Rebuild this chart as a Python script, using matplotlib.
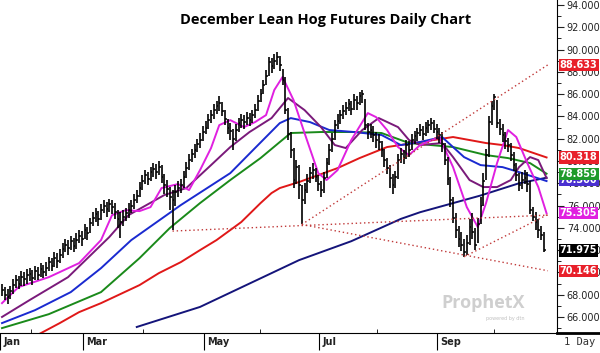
import matplotlib
matplotlib.use("Agg")
import matplotlib.pyplot as plt
from matplotlib.lines import Line2D
import matplotlib.transforms as mtransforms

# daily bars (December lean hogs)
closes = [
    68.4, 68.0, 67.8, 68.3, 68.9, 69.3, 69.0, 69.6, 69.4, 69.8,
    69.9, 69.5, 70.1, 69.8, 70.3, 70.0, 70.4, 70.9, 70.6, 71.3,
    71.0, 71.6, 72.1, 72.5, 72.2, 72.8, 72.4, 72.9, 73.3, 73.0,
    73.8, 73.5, 74.4, 74.9, 75.2, 74.8, 75.6, 76.0, 75.7, 76.1,
    75.9, 75.4, 74.8, 74.5, 75.0, 75.3, 75.6, 76.0, 76.5, 76.9,
    77.6, 78.2, 78.7, 78.4, 79.0, 79.3, 79.0, 79.5, 78.6, 77.8,
    77.5, 76.8, 76.5, 77.2, 77.6, 77.8, 78.6, 79.4, 80.1, 80.6,
    81.0, 81.5, 81.9, 82.6, 83.0, 83.7, 84.1, 84.6, 84.9, 85.2,
    84.5, 83.8, 83.0, 82.7, 82.0, 82.8, 83.4, 83.7, 83.5, 83.9,
    83.7, 84.1, 84.6, 85.4, 86.0, 86.8, 87.6, 88.9, 88.5, 89.0,
    89.3, 88.6, 87.3, 84.6, 82.4, 81.0, 78.3, 79.5, 77.8, 76.5,
    77.4, 78.2, 78.9, 79.2, 78.6, 77.9, 77.4, 78.5, 79.8, 81.0,
    82.0, 83.2, 83.6, 84.1, 84.5, 84.8, 85.1, 84.7, 85.5, 85.2,
    85.8, 86.0, 83.2, 82.6, 82.8, 82.3, 81.9, 81.7, 81.0, 80.1,
    79.4, 78.5, 77.8, 78.6, 80.1, 80.6, 80.3, 81.4, 81.0, 81.9,
    82.2, 82.5, 82.8, 82.4, 83.0, 83.2, 83.4, 82.9, 82.6, 82.3,
    81.5, 80.1, 78.4, 76.5, 74.9, 73.8, 73.0, 72.5, 71.8, 72.6,
    74.1, 73.6, 72.5, 74.3, 76.0, 78.2, 80.5, 83.5, 84.9, 85.7,
    83.4, 82.9, 82.3, 81.8, 81.4, 80.5, 79.6, 78.7, 77.8, 78.3,
    78.5, 77.9, 75.6, 75.0, 74.5, 73.8, 73.4, 71.975,
]
highs = [
    69.0, 68.7, 68.5, 68.8, 69.4, 69.8, 69.7, 70.1, 70.0, 70.3,
    70.4, 70.2, 70.6, 70.5, 70.8, 70.7, 70.9, 71.4, 71.3, 71.8,
    71.7, 72.1, 72.6, 73.0, 72.9, 73.3, 73.1, 73.5, 73.8, 73.7,
    74.3, 74.1, 74.9, 75.4, 75.8, 75.5, 76.1, 76.5, 76.3, 76.6,
    76.5, 76.2, 75.6, 75.4, 75.6, 75.8, 76.2, 76.5, 77.0, 77.4,
    78.1, 78.7, 79.2, 79.0, 79.5, 79.8, 79.7, 80.0, 79.6, 78.8,
    78.3, 77.7, 77.4, 77.8, 78.2, 78.4, 79.1, 79.9, 80.6, 81.1,
    81.5, 82.0, 82.5, 83.1, 83.6, 84.2, 84.6, 85.1, 85.4, 85.8,
    85.3, 84.6, 83.8, 83.4, 82.9, 83.3, 83.9, 84.2, 84.1, 84.4,
    84.3, 84.6, 85.1, 85.9, 86.5, 87.3, 88.2, 89.3, 89.2, 89.6,
    89.8, 89.4, 88.3, 87.5, 84.8, 82.6, 81.2, 80.1, 79.6, 77.8,
    78.0, 78.8, 79.5, 79.8, 79.4, 78.7, 78.2, 79.0, 80.3, 81.5,
    82.5, 83.7, 84.2, 84.6, 85.0, 85.3, 85.6, 85.4, 86.0, 85.8,
    86.2, 86.4, 85.6, 83.4, 83.3, 83.1, 82.6, 82.4, 81.8, 81.1,
    80.3, 79.6, 78.8, 79.1, 80.6, 81.2, 81.0, 81.9, 81.8, 82.4,
    82.7, 83.0, 83.3, 83.1, 83.5, 83.7, 83.9, 83.7, 83.3, 83.0,
    82.6, 81.6, 80.4, 78.6, 76.8, 75.3, 74.2, 73.6, 73.0, 73.4,
    74.8, 75.3, 74.0, 74.9, 76.8, 78.9, 81.1, 84.0, 85.4, 86.0,
    85.5, 83.8, 83.3, 82.6, 82.1, 81.6, 80.8, 79.8, 78.9, 79.0,
    79.2, 79.0, 78.2, 75.9, 75.4, 74.8, 74.2, 73.6,
]
lows = [
    67.9, 67.5, 67.2, 67.6, 68.1, 68.6, 68.5, 68.8, 68.8, 69.0,
    69.2, 68.9, 69.3, 69.3, 69.6, 69.5, 69.7, 70.1, 70.1, 70.5,
    70.4, 70.8, 71.3, 71.8, 71.6, 72.0, 71.8, 72.1, 72.6, 72.4,
    73.0, 72.9, 73.5, 74.2, 74.5, 74.2, 74.7, 75.3, 75.0, 75.4,
    75.2, 74.8, 74.0, 73.1, 74.2, 74.6, 74.9, 75.3, 75.7, 76.2,
    76.8, 77.4, 77.9, 77.8, 78.2, 78.6, 78.4, 78.7, 78.0, 77.0,
    76.8, 75.6, 73.8, 76.0, 76.8, 77.1, 77.6, 78.5, 79.2, 79.9,
    80.3, 80.8, 81.2, 81.8, 82.4, 82.9, 83.4, 83.8, 84.2, 84.5,
    84.0, 83.2, 82.4, 81.9, 81.0, 81.8, 82.6, 83.0, 82.9, 83.2,
    83.1, 83.4, 83.9, 84.5, 85.3, 86.0, 86.8, 87.6, 87.9, 88.3,
    88.6, 88.1, 86.8, 84.2, 81.9, 80.3, 77.6, 77.9, 76.6, 74.3,
    76.1, 77.1, 78.0, 78.4, 78.1, 77.3, 76.8, 77.1, 78.5, 79.6,
    80.8, 81.9, 82.9, 83.3, 83.8, 84.1, 84.5, 84.1, 84.6, 84.6,
    85.0, 85.2, 82.8, 82.0, 82.1, 81.7, 81.2, 81.0, 80.4, 79.5,
    78.8, 77.6, 77.0, 77.6, 78.4, 79.8, 79.7, 80.2, 80.4, 81.0,
    81.5, 81.8, 82.2, 81.9, 82.2, 82.5, 82.8, 82.5, 82.0, 81.6,
    80.8, 79.6, 77.8, 75.9, 74.4, 73.1, 72.3, 71.9, 71.4, 71.6,
    72.5, 73.0, 72.0, 72.6, 74.3, 76.0, 78.3, 80.4, 83.2, 84.6,
    83.0, 82.3, 81.7, 81.1, 80.8, 80.0, 79.1, 78.2, 77.3, 77.5,
    77.9, 77.2, 75.2, 74.6, 73.8, 73.1, 72.9, 71.8,
]

# moving averages as drawn on the chart (bar index, value)
mag_idx = [0, 6, 17, 28, 36, 40, 45, 50, 54, 58, 64, 68, 72, 76, 79, 83, 88, 92, 96, 99,
           102, 106, 110, 115, 118, 122, 127, 133, 136, 140, 144, 148, 152, 159, 164, 169,
           173, 176, 180, 184, 187, 191, 195, 198]
mag_val = [67.24, 68.68, 69.57, 70.83, 72.9, 75.14, 75.59, 75.5, 75.86, 77.57, 77.93, 77.39,
           79.18, 81.16, 83.22, 83.67, 83.04, 83.49, 84.12, 86.37, 87.54, 85.47, 82.51, 78.91,
           78.29, 79.18, 81.88, 84.3, 83.94, 82.78, 81.25, 80.53, 81.43, 82.15, 79.45, 75.86,
           74.07, 76.22, 79.81, 82.78, 82.15, 79.81, 77.66, 75.305]
pur_idx = [0, 10, 24, 39, 46, 59, 67, 76, 83, 90, 98, 104, 110, 116, 121, 125, 131, 137, 144,
           148, 152, 160, 164, 170, 175, 180, 185, 188, 192, 195, 198]
pur_val = [66.0, 67.51, 69.57, 73.17, 75.14, 76.94, 77.57, 79.63, 81.25, 82.6, 83.85, 85.65,
           84.57, 83.04, 81.43, 81.16, 82.78, 83.85, 83.04, 81.88, 81.43, 81.61, 80.35, 78.29,
           77.66, 77.66, 78.29, 79.45, 80.35, 80.08, 78.47]
blu_idx = [0, 12, 25, 36, 47, 65, 83, 92, 101, 105, 112, 119, 128, 138, 145, 152, 160, 168,
           174, 182, 188, 198]
blu_val = [65.45, 66.61, 68.23, 70.38, 72.9, 76.04, 78.91, 81.16, 83.4, 83.85, 83.49, 82.78,
           82.6, 82.33, 81.43, 81.7, 82.15, 80.35, 79.63, 79.45, 79.0, 78.2]
grn_idx = [0, 17, 36, 50, 61, 72, 83, 94, 101, 105, 116, 128, 138, 148, 164, 176, 184, 192, 198]
grn_val = [65.0, 66.25, 68.23, 71.28, 73.98, 76.22, 78.29, 80.26, 81.7, 82.51, 82.6, 82.6,
           82.51, 81.61, 81.25, 80.53, 80.26, 79.81, 78.859]
red_idx = [13, 21, 28, 36, 43, 50, 57, 65, 72, 78, 87, 94, 98, 101, 108, 116, 122, 130, 140,
           152, 164, 176, 182, 188, 198]
red_val = [64.4, 65.45, 66.43, 67.24, 68.05, 68.86, 69.93, 70.92, 72.0, 72.9, 74.52, 76.22,
           77.12, 77.57, 78.11, 78.82, 79.36, 80.26, 81.25, 81.7, 82.15, 81.61, 81.43, 81.16,
           80.318]
nav_idx = [49, 72, 90, 108, 127, 145, 152, 174, 188, 198]
nav_val = [65.1, 66.9, 69.0, 71.1, 72.8, 74.8, 75.4, 76.9, 78.0, 78.5]

# dotted trend lines (start bar, start value, end bar, end value)
trend_lines = [
    (62, 73.71, 198.5, 75.14),
    (109, 74.3, 198.5, 70.146),
    (168, 71.4, 198.5, 75.2),
    (109, 74.3, 198.5, 88.633),
]

# price flags on the right scale
flag_vals = [88.633, 80.318, 78.3, 78.859, 75.305, 71.975, 70.146]
flag_text = ['88.633', '80.318', '78.300', '78.859', '75.305', '71.975', '70.146']
flag_cols = ['#e8202a', '#e8202a', '#4a2fd0', '#1f9a2a', '#e020e0', '#000000', '#e8202a']

month_pos = [-0.7, 29.5, 73.5, 115.3, 158.2]
month_names = ['Jan', 'Mar', 'May', 'Jul', 'Sep']
minor_pos = [10.5, 51.3, 93.8, 136.4, 178.9]

fig = plt.figure(figsize=(6, 3.53), dpi=100)
ax = fig.add_axes([0, 20 / 353, 557 / 600, 333 / 353])
ax.set_xlim(-0.73, 201.8)
ax.set_ylim(64.56, 94.45)

# moving averages
ax.plot(nav_idx, nav_val, color='#14147a', lw=1.4)
ax.plot(red_idx, red_val, color='#e01818', lw=1.4)
ax.plot(grn_idx, grn_val, color='#1a8a1a', lw=1.4)
ax.plot(blu_idx, blu_val, color='#1a2ad0', lw=1.4)
ax.plot(pur_idx, pur_val, color='#7a1a7a', lw=1.4)
ax.plot(mag_idx, mag_val, color='#e020e0', lw=1.4)

# HLC bars
idx = list(range(len(closes)))
ax.vlines(idx, lows, highs, color='black', lw=1.2)
ax.hlines(closes, [i for i in idx], [i + 0.7 for i in idx], color='black', lw=1.1)

for x0, y0, x1, y1 in trend_lines:
    ax.plot([x0, x1], [y0, y1], color='#c03838', lw=1.0, ls=(0, (1, 2)))

for s in ['top', 'left']:
    ax.spines[s].set_visible(False)
ax.spines['right'].set_color('black')
ax.spines['bottom'].set_color('black')

ax.yaxis.tick_right()
ax.set_yticks(range(66, 95, 2))
ax.set_yticklabels([f'{v:.3f}' for v in range(66, 95, 2)])
ax.set_yticks(range(65, 95, 2), minor=True)
ax.tick_params(axis='y', which='major', length=5, pad=2, labelsize=7, colors='#222222')
ax.tick_params(axis='y', which='minor', length=3)

ax.set_xticks(month_pos)
ax.set_xticklabels([])
ax.set_xticks(minor_pos, minor=True)
ax.tick_params(axis='x', which='major', length=12, width=0.8)
ax.tick_params(axis='x', which='minor', length=3, direction='in')
trans = mtransforms.blended_transform_factory(ax.transData, ax.transAxes)
for p, name in zip(month_pos, month_names):
    ax.text(p + 1.2, -0.012, name, transform=trans, ha='left', va='top', fontsize=7,
            fontweight='bold', color='#222222')

for v, t, c in zip(flag_vals, flag_text, flag_cols):
    ax.annotate(t, xy=(1, v), xycoords=('axes fraction', 'data'), xytext=(2, 0),
                textcoords='offset points', ha='left', va='center', fontsize=7,
                fontweight='bold', color='white', annotation_clip=False,
                bbox=dict(boxstyle='square,pad=0.12', fc=c, ec='none'))

fig.text(0.542, 0.943, 'December Lean Hog Futures Daily Chart', ha='center', va='center',
         fontsize=10.5, fontweight='bold', family='Open Sans')

fig.text(0.735, 0.142, 'ProphetX', ha='left', va='center', fontsize=13, fontweight='bold',
         color='#cfcfcf', family='Open Sans')
fig.text(0.81, 0.098, 'powered by dtn', ha='left', va='center', fontsize=3.5, color='#c0c0c0')

fig.add_artist(Line2D([557 / 600, 1], [20 / 353, 20 / 353], color='black', lw=2))
fig.text(0.94, 0.03, '1 Day', ha='left', va='center', fontsize=7.5,
         family='DejaVu Sans Mono', color='#333333')

fig.savefig('out.png', dpi=100)
